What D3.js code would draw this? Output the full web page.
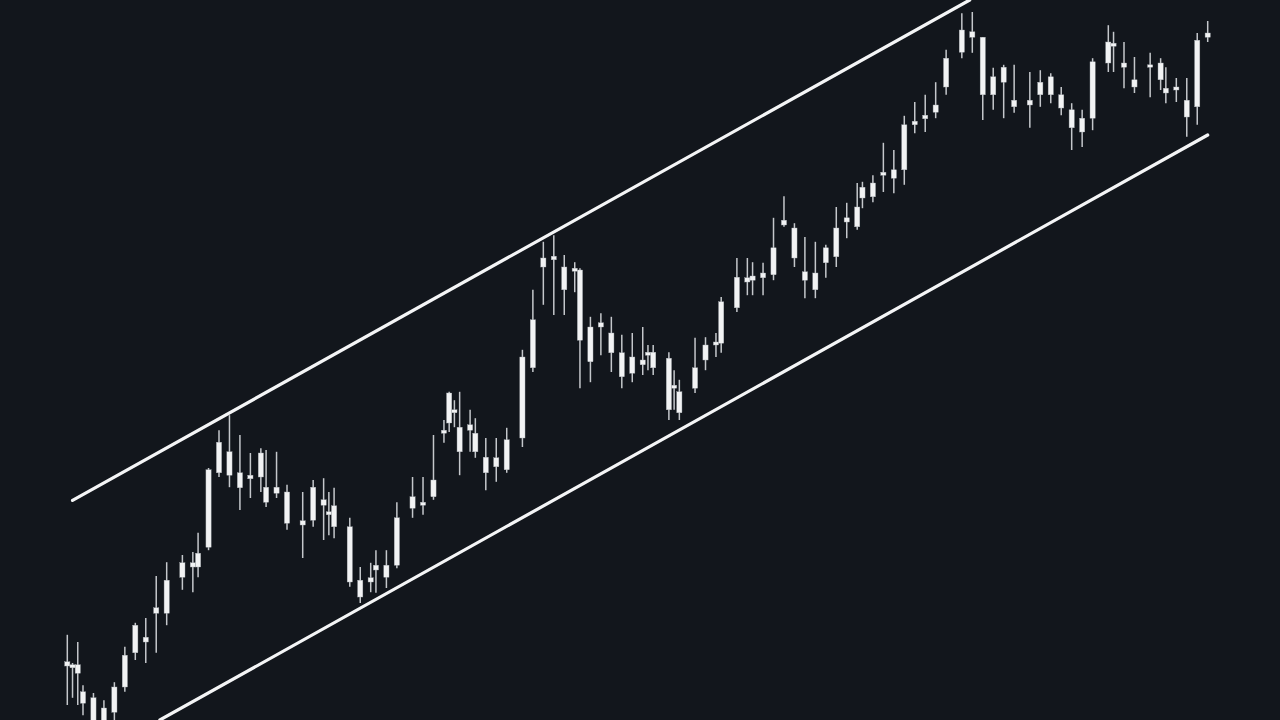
<!DOCTYPE html>
<html>
<head>
<meta charset="utf-8">
<script src="https://cdn.jsdelivr.net/npm/d3@7"></script>
<style>
  html, body { margin: 0; padding: 0; background: #12161c; overflow: hidden; }
  svg { display: block; }
</style>
</head>
<body>
<svg id="chart" width="1280" height="720"></svg>
<script>
// Session number (trading-day index) of each candle
const days = [
  0,1,2,3,5,7,9,11,13,15,
  17,19,22,24,25,27,29,31,33,35,
  37,38,40,42,45,47,49,50,51,54,
  56,58,59,61,63,66,68,70,72,73,
  74,75,77,78,80,82,84,87,89,91,
  93,95,97,98,100,102,104,106,108,110,
  111,112,115,116,117,120,122,124,125,128,
  130,131,133,135,137,139,141,143,145,147,
  149,151,152,154,156,158,160,162,164,166,
  168,171,173,175,177,179,181,184,186,188,
  190,192,194,196,199,200,202,204,207,209,
  210,212,214,216,218
];
const opens = [
  109.0,108.7,107.8,102.8,99.7,99.5,101.3,105.5,111.2,113.0,
  117.8,117.8,123.8,125.5,125.5,128.8,141.2,140.8,138.7,140.2,
  140.5,136.3,137.8,132.8,132.5,133.3,135.8,134.2,132.2,132.2,
  120.5,123.0,125.0,123.8,125.8,135.3,135.8,137.2,147.8,149.5,
  151.2,144.7,148.3,144.7,141.2,142.2,141.7,147.0,158.7,175.5,
  176.7,171.7,174.8,175.0,159.7,165.5,161.2,157.2,157.8,159.2,
  160.8,158.7,160.3,155.3,151.2,155.3,160.0,162.5,162.8,168.7,
  173.0,173.3,173.7,174.2,182.5,177.0,173.3,171.7,176.2,177.2,
  183.0,182.2,187.0,187.2,190.8,190.3,191.7,199.2,200.2,201.3,
  205.5,211.3,213.8,213.8,204.2,206.3,202.2,202.5,204.2,204.2,
  202.0,198.7,198.0,200.3,209.5,212.3,208.8,205.5,208.8,206.7,
  204.5,205.0,200.5,202.2,213.8
];
const highs = [
  114.2,109.5,113.0,105.8,104.5,103.3,106.3,112.2,116.2,117.0,
  124.0,126.3,127.5,128.0,131.2,142.0,148.3,150.8,147.5,144.5,
  145.3,145.0,144.7,139.2,138.0,140.0,140.3,138.0,138.7,133.7,
  125.5,126.2,128.3,128.3,136.3,140.5,140.5,147.5,150.0,154.7,
  153.3,154.7,151.7,150.3,147.0,147.0,148.7,161.7,171.7,179.7,
  180.8,177.5,176.3,175.3,167.2,167.8,167.2,164.2,164.5,165.5,
  162.5,162.5,161.3,158.3,156.7,163.7,163.8,164.5,170.5,177.0,
  177.0,176.3,176.2,183.7,187.3,182.8,180.5,179.7,179.2,185.5,
  186.2,189.5,189.7,190.8,196.2,195.0,200.7,203.0,204.2,206.3,
  211.7,217.8,218.0,213.8,208.7,209.2,209.2,208.0,208.3,207.8,
  205.5,202.8,201.7,210.3,215.8,214.7,213.0,210.5,211.2,210.3,
  208.8,207.0,207.0,214.5,216.5
];
const lows = [
  102.5,103.7,102.5,100.8,98.5,98.5,100.0,104.7,110.0,109.5,
  111.2,115.8,121.7,121.3,123.8,128.3,140.5,138.8,135.0,137.0,
  138.0,135.5,137.0,131.7,127.0,132.2,130.0,130.8,130.3,122.2,
  119.5,121.3,121.2,122.0,125.3,133.7,134.2,136.7,146.2,148.0,
  148.8,140.8,144.7,143.7,138.3,139.7,141.2,145.5,158.0,169.2,
  167.5,167.5,171.3,155.3,156.3,160.8,158.0,155.3,156.3,157.5,
  158.3,157.5,150.0,151.7,150.0,154.5,158.3,160.5,161.2,168.0,
  170.8,170.8,170.8,173.3,182.2,175.5,170.3,170.3,173.7,175.5,
  180.3,181.7,185.3,186.3,188.0,187.8,189.2,197.8,198.0,200.3,
  204.2,210.3,211.2,200.0,201.7,200.3,201.2,198.7,202.2,202.8,
  200.8,195.0,195.5,198.3,208.0,208.0,205.3,204.5,203.8,205.0,
  202.8,203.0,197.2,199.2,213.0
];
const closes = [
  109.7,109.2,109.2,104.7,103.7,102.0,105.5,110.8,115.8,113.8,
  118.7,123.3,126.2,126.2,127.8,141.7,146.3,144.7,141.2,140.8,
  144.5,138.8,138.8,138.0,133.2,138.8,136.7,134.7,135.7,123.0,
  123.3,123.7,125.8,125.8,133.7,137.2,136.3,140.0,148.3,154.5,
  151.7,148.8,149.2,147.8,143.8,143.7,146.7,160.5,166.7,177.0,
  177.3,175.5,175.3,163.3,165.5,166.2,164.5,161.2,160.5,160.0,
  161.3,161.3,151.7,155.8,154.7,158.7,162.5,163.0,169.7,173.8,
  173.7,174.0,174.5,178.7,183.3,182.0,174.7,174.5,178.7,182.0,
  183.7,185.5,188.8,189.5,191.3,191.7,199.2,199.8,200.8,202.5,
  210.3,215.0,214.7,204.2,207.2,208.8,203.3,203.3,206.3,207.2,
  204.2,201.7,200.3,209.7,213.0,212.8,209.5,206.7,209.2,209.5,
  205.3,205.5,203.3,213.3,214.5
];
// Trend channel end points (session, price)
const channelUpper = [[1.0, 136.6], [172.5, 220.0]];
const channelLower = [[17.7, 100.0], [218.0, 197.5]];

const W = 1280, H = 720;
const n = Math.min(days.length, opens.length, highs.length, lows.length, closes.length);
const candles = d3.range(n).map(i => ({
  day: days[i], open: opens[i], high: highs[i], low: lows[i], close: closes[i]
}));

const x = d3.scaleLinear().domain([0, 218]).range([67.3, 1207.7]);
const y = d3.scaleLinear().domain([100, 220]).range([H, 0]);

const svg = d3.select("#chart");
svg.append("rect").attr("width", W).attr("height", H).attr("fill", "#12161c");

const defs = svg.append("defs");
defs.append("filter").attr("id", "soft")
  .append("feGaussianBlur").attr("stdDeviation", 0.35);

const line = d3.line().x(d => x(d[0])).y(d => y(d[1]));
[channelUpper, channelLower].forEach(pts => {
  svg.append("path")
    .attr("d", line(pts))
    .attr("fill", "none")
    .attr("stroke", "#f4f5f6")
    .attr("stroke-width", 3.2)
    .attr("stroke-linecap", "round");
});

const g = svg.append("g").attr("filter", "url(#soft)");
const c = g.selectAll("g.candle").data(candles).join("g").attr("class", "candle");
c.append("line")
  .attr("x1", d => x(d.day)).attr("x2", d => x(d.day))
  .attr("y1", d => y(d.high)).attr("y2", d => y(d.low))
  .attr("stroke", "#c4c7cb")
  .attr("stroke-width", 1.5);
const bw = 5.2;
c.append("rect")
  .attr("x", d => x(d.day) - bw / 2)
  .attr("y", d => y(Math.max(d.open, d.close)))
  .attr("width", bw)
  .attr("height", d => Math.max(2, Math.abs(y(d.open) - y(d.close))))
  .attr("fill", "#f2f3f4")
  .attr("stroke", "#a9adb2")
  .attr("stroke-width", 0.4);
</script>
</body>
</html>
